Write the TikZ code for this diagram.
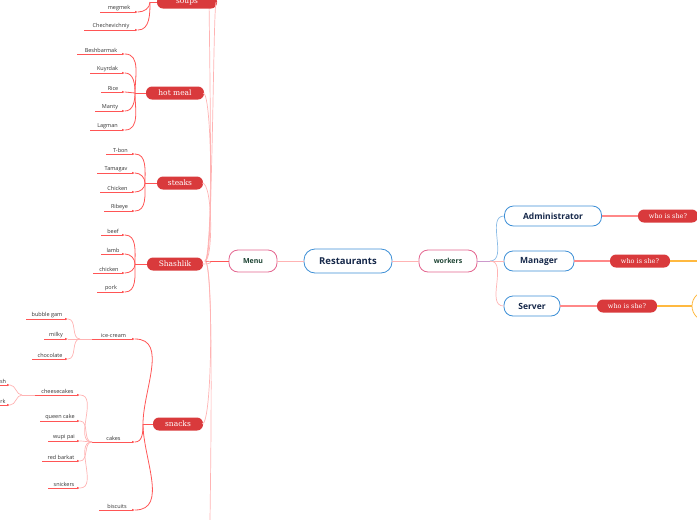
\documentclass[tikz,border=0pt]{standalone}
\usepackage{fontspec}
\setmainfont{Open Sans}
\newfontfamily\slab{DejaVu Serif}
\usetikzlibrary{arrows.meta}
\definecolor{lred}{HTML}{FF5555}
\definecolor{lpink}{HTML}{FFB3B3}
\definecolor{cred}{HTML}{D93A3C}
\definecolor{bblue}{HTML}{3D8FD6}
\definecolor{ppink}{HTML}{E4658F}
\definecolor{navy}{HTML}{16284A}
\definecolor{dgreen}{HTML}{1E4434}
\definecolor{orng}{HTML}{FFB940}
\tikzset{
 leafnode/.style={font=\fontsize{5.5}{6}\selectfont, text=black!80, inner sep=1pt, anchor=south},
 uline/.style={draw=lred, line width=0.8pt, -{Latex[length=3pt,width=2.5pt]}},
 lite/.style={draw=lpink, line width=0.7pt},
 conn/.style={draw=lred, line width=0.8pt},
 cat/.style={fill=cred, text=white, rounded corners=6pt, font=\slab\fontsize{7.5}{8}\selectfont, minimum height=13pt, inner xsep=6pt},
 bluebox/.style={draw=bblue, line width=0.8pt, rounded corners=9pt, text=navy, font=\bfseries\fontsize{8.5}{9}\selectfont, minimum height=20pt, fill=white},
 pinkbox/.style={draw=ppink, line width=0.8pt, rounded corners=9pt, text=dgreen, font=\bfseries\fontsize{7}{7}\selectfont, minimum height=22pt, fill=white},
 who/.style={fill=cred, text=white, rounded corners=6pt, font=\slab\fontsize{6.5}{7}\selectfont, minimum height=13pt, minimum width=60pt},
}
\newcommand\leaf[5]{% name, x1, x2, y, text
 \node[leafnode, minimum width={#3-#2}] (#1) at ({(#2+#3)/2},#4) {#5};
 \draw[uline] (#2,#4) -- (#3,#4);}
\begin{document}
\begin{tikzpicture}[x=1pt,y=-1pt]
\useasboundingbox (0,0) rectangle (697,520);
\clip (0,0) rectangle (697,520);
% central
\node[bluebox, minimum width=88pt, font=\bfseries\fontsize{9.5}{10}\selectfont, minimum height=24pt, rounded corners=11pt] (rest) at (348,261) {Restaurants};
\node[pinkbox, minimum width=48pt] (menu) at (253,261) {Menu};
\node[pinkbox, minimum width=58pt] (work) at (448,261) {workers};
\draw[lite] (rest.west) -- (menu.east);
\draw[lite] (rest.east) -- (work.west);
\coordinate (sp) at (205,261);
\draw[draw=lred,line width=0.8pt] (menu.west) -- (sp);
% spine to edges
\coordinate (et) at (209,0);
\coordinate (eb) at (210,520);
\draw[lite] (sp) .. controls (212,261) and (211,150) .. (et);
\draw[lite] (sp) .. controls (212,261) and (212,380) .. (eb);
% workers
\node[bluebox, minimum width=97pt] (adm) at (553,216) {Administrator};
\node[bluebox, minimum width=70pt] (man) at (539,261) {Manager};
\node[bluebox, minimum width=56pt] (ser) at (532,306) {Server};
\coordinate (wj) at (490,261);
\draw[draw=violet!40,line width=0.8pt] (work.east) -- (wj);
\draw[draw=bblue!60,line width=0.7pt] (wj) to[out=0,in=180] (adm.west);
\draw[draw=lpink,line width=0.7pt] (wj) -- (man.west);
\draw[draw=lpink,line width=0.7pt] (wj) to[out=0,in=180] (ser.west);
\node[who] (w1) at (668,216) {who is she?};
\node[who] (w2) at (640,261) {who is she?};
\node[who] (w3) at (627,306) {who is she?};
\draw[draw=lred!70,line width=1.2pt] (adm.east) -- (w1.west);
\draw[draw=lred!70,line width=1.2pt] (man.east) -- (w2.west);
\draw[draw=lred!70,line width=1.2pt] (ser.east) -- (w3.west);
\coordinate (o2) at (697,261);
\draw[draw=orng,line width=1.2pt] (w2.east) -- (o2);
\node[draw=orng,line width=0.8pt,circle,minimum size=30pt] (oc) at (707,306) {};
\draw[draw=orng,line width=1.2pt] (w3.east) -- (oc.west);
% categories
\node[cat, minimum width=60pt] (soups) at (187,2) {soups};
\node[cat, minimum width=58pt] (hot) at (175,93) {hot meal};
\node[cat, minimum width=46pt] (steaks) at (180,183) {steaks};
\node[cat, minimum width=56pt] (shash) at (175,264) {Shashlik};
\node[cat, minimum width=50pt] (snacks) at (178,424) {snacks};
\foreach \c in {soups,hot,steaks,shash,snacks}{
 \draw[lite] (sp) .. controls (213,261) and (213,0 |- \c.east) .. ([xshift=-1pt]\c.east);}
% soups
\coordinate (js) at (150,2);
\draw[conn] (soups.west) -- (js);
\leaf{s1}{100}{138}{12}{megmek}
\leaf{s2}{84}{138}{30}{Chechevichniy}
\draw[conn] (js) to[out=-90,in=0] (138,12);
\draw[conn] (js) to[out=-90,in=0] (138,30);
% hot meal
\coordinate (jh) at (135,93);
\draw[conn] (hot.west) -- (jh);
\leaf{h1}{77}{125}{54}{Beshbarmak}
\leaf{h2}{90}{125}{73}{Kuyrdak}
\leaf{h3}{101}{125}{92}{Rice}
\leaf{h4}{95}{125}{111}{Manty}
\leaf{h5}{90}{125}{130}{Lagman}
\draw[conn] (jh) to[out=90,in=0] (125,54);
\draw[conn] (jh) to[out=90,in=0] (125,73);
\draw[conn] (jh) -- (125,92);
\draw[conn] (jh) to[out=-90,in=0] (125,111);
\draw[conn] (jh) to[out=-90,in=0] (125,130);
% steaks
\coordinate (jt) at (145,183);
\draw[conn] (steaks.west) -- (jt);
\leaf{t1}{106}{135}{154}{T-bon}
\leaf{t2}{97}{135}{173}{Tamagav}
\leaf{t3}{100}{135}{192}{Chicken}
\leaf{t4}{104}{135}{211}{Ribeye}
\draw[conn] (jt) to[out=90,in=0] (135,154);
\draw[conn] (jt) to[out=90,in=0] (135,173);
\draw[conn] (jt) to[out=-90,in=0] (135,192);
\draw[conn] (jt) to[out=-90,in=0] (135,211);
% shashlik
\coordinate (jk) at (135,264);
\draw[conn] (shash.west) -- (jk);
\leaf{k1}{101}{125}{235}{beef}
\leaf{k2}{101}{125}{254}{lamb}
\leaf{k3}{93}{125}{273}{chicken}
\leaf{k4}{97}{125}{292}{pork}
\draw[conn] (jk) to[out=90,in=0] (125,235);
\draw[conn] (jk) to[out=90,in=0] (125,254);
\draw[conn] (jk) to[out=-90,in=0] (125,273);
\draw[conn] (jk) to[out=-90,in=0] (125,292);
% snacks
\coordinate (jn) at (143,424);
\draw[conn] (snacks.west) -- (jn);
\leaf{n1}{92}{135}{339}{ice-cream}
\leaf{n2}{92}{135}{442}{cakes}
\leaf{n3}{99}{135}{510}{biscuits}
\draw[conn] (jn) to[out=90,in=0] (135,339);
\draw[conn] (jn) to[out=-90,in=0] (135,442);
\draw[conn] (jn) to[out=-90,in=0] (135,510);
% ice-cream children
\coordinate (ji) at (80,339);
\draw[lite] (92,339) -- (ji);
\leaf{i1}{26}{68}{319}{bubble gam}
\leaf{i2}{44}{68}{339}{milky}
\leaf{i3}{32}{68}{359}{chocolate}
\draw[lite] (ji) to[out=180,in=0] (68,319);
\draw[lite] (ji) -- (68,339);
\draw[lite] (ji) to[out=180,in=0] (68,359);
% cakes children
\coordinate (jc) at (92,442);
\leaf{c1}{35}{80}{395}{cheesecakes}
\leaf{c2}{40}{80}{421}{queen cake}
\leaf{c3}{48}{80}{441}{wupi pai}
\leaf{c4}{42}{80}{461}{red barkat}
\leaf{c5}{48}{80}{488}{snickers}
\foreach \yy in {395,421,441,461,488}{\draw[lite] (jc) to[out=180,in=0] (80,\yy);}
% cheesecakes children
\coordinate (jq) at (22,395);
\draw[lite] (35,395) -- (jq);
\leaf{q1}{-10}{10}{385}{\hspace*{6pt}sh}
\leaf{q2}{-10}{10}{405}{\hspace*{6pt}rk}
\draw[lite] (jq) to[out=180,in=0] (10,385);
\draw[lite] (jq) to[out=180,in=0] (10,405);
\end{tikzpicture}
\end{document}
